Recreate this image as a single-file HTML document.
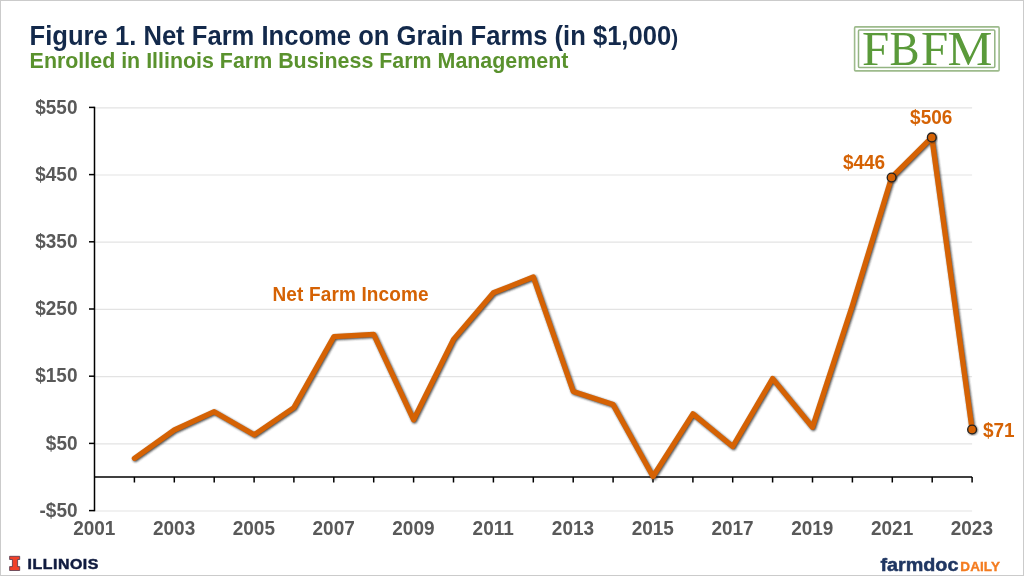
<!DOCTYPE html>
<html><head><meta charset="utf-8">
<style>
html,body{margin:0;padding:0;background:#fff;}
body{width:1024px;height:576px;overflow:hidden;position:relative;}
svg{position:absolute;left:0;top:0;will-change:transform;}
.ax{font-family:"Liberation Sans",sans-serif;font-weight:bold;font-size:19px;fill:#595959;}
.dl{font-family:"Liberation Sans",sans-serif;font-weight:bold;font-size:19px;fill:#D56204;}
.t1{font-family:"Liberation Sans",sans-serif;font-weight:bold;font-size:26px;fill:#13294B;}
.t2{font-family:"Liberation Sans",sans-serif;font-weight:bold;font-size:21.5px;fill:#5A922E;}
.fb{font-family:"Liberation Serif",serif;font-size:49px;fill:#5A9A3A;}
.il{font-family:"Liberation Sans",sans-serif;font-weight:bold;font-size:15px;fill:#101B3F;}
.fd{font-family:"Liberation Sans",sans-serif;font-weight:bold;font-size:19px;fill:#1F3662;}
.dy{font-family:"Liberation Sans",sans-serif;font-weight:bold;font-size:13.5px;fill:#F47C20;}
</style></head>
<body>
<svg width="1024" height="576" viewBox="0 0 1024 576">
<defs><filter id="b" x="-5%" y="-5%" width="110%" height="110%"><feGaussianBlur stdDeviation="0.8"/></filter></defs>
<rect x="0.5" y="0.5" width="1023" height="575" fill="#fff" stroke="#CBCBCB" stroke-width="1"/>
<text transform="translate(29.6,44.6) scale(0.985,1.045)" class="t1">Figure 1. Net Farm Income on Grain Farms (in $1,000<tspan font-size="21">)</tspan></text>
<text transform="translate(29.6,68.4) scale(0.996,1.055)" class="t2">Enrolled in Illinois Farm Business Farm Management</text>
<rect x="854.6" y="26.9" width="144.5" height="44" rx="1" fill="none" stroke="#9DBB8C" stroke-width="1.6"/>
<rect x="858.5" y="30" width="136.3" height="37.6" rx="1" fill="none" stroke="#93B482" stroke-width="1.5"/>
<text transform="translate(862,65.3)" class="fb">F</text>
<text transform="translate(889.6,65.3) scale(0.92,1)" class="fb">B</text>
<text transform="translate(921,65.3)" class="fb">F</text>
<text transform="translate(947.4,65.3) scale(1.03,1)" class="fb">M</text>
<line x1="94.5" y1="107.8" x2="972.1" y2="107.8" stroke="#E3E3E3" stroke-width="1.2"/>
<line x1="94.5" y1="175.0" x2="972.1" y2="175.0" stroke="#E3E3E3" stroke-width="1.2"/>
<line x1="94.5" y1="242.2" x2="972.1" y2="242.2" stroke="#E3E3E3" stroke-width="1.2"/>
<line x1="94.5" y1="309.4" x2="972.1" y2="309.4" stroke="#E3E3E3" stroke-width="1.2"/>
<line x1="94.5" y1="376.6" x2="972.1" y2="376.6" stroke="#E3E3E3" stroke-width="1.2"/>
<line x1="94.5" y1="443.8" x2="972.1" y2="443.8" stroke="#E3E3E3" stroke-width="1.2"/>
<line x1="94.5" y1="511.0" x2="972.1" y2="511.0" stroke="#E3E3E3" stroke-width="1.2"/>
<line x1="94.5" y1="107.4" x2="94.5" y2="510.6" stroke="#000" stroke-width="1.5" stroke-linecap="square"/>
<line x1="89.0" y1="107.4" x2="94.5" y2="107.4" stroke="#000" stroke-width="1.5"/>
<text transform="translate(77.50,113.50) scale(1.0,1.06)" text-anchor="end" class="ax" >$550</text>
<line x1="89.0" y1="174.6" x2="94.5" y2="174.6" stroke="#000" stroke-width="1.5"/>
<text transform="translate(77.50,180.70) scale(1.0,1.06)" text-anchor="end" class="ax" >$450</text>
<line x1="89.0" y1="241.8" x2="94.5" y2="241.8" stroke="#000" stroke-width="1.5"/>
<text transform="translate(77.50,247.90) scale(1.0,1.06)" text-anchor="end" class="ax" >$350</text>
<line x1="89.0" y1="309.0" x2="94.5" y2="309.0" stroke="#000" stroke-width="1.5"/>
<text transform="translate(77.50,315.10) scale(1.0,1.06)" text-anchor="end" class="ax" >$250</text>
<line x1="89.0" y1="376.2" x2="94.5" y2="376.2" stroke="#000" stroke-width="1.5"/>
<text transform="translate(77.50,382.30) scale(1.0,1.06)" text-anchor="end" class="ax" >$150</text>
<line x1="89.0" y1="443.4" x2="94.5" y2="443.4" stroke="#000" stroke-width="1.5"/>
<text transform="translate(77.50,449.50) scale(1.0,1.06)" text-anchor="end" class="ax" >$50</text>
<line x1="89.0" y1="510.6" x2="94.5" y2="510.6" stroke="#000" stroke-width="1.5"/>
<text transform="translate(77.50,516.70) scale(1.0,1.06)" text-anchor="end" class="ax" >-$50</text>
<line x1="94.5" y1="477.0" x2="972.1" y2="477.0" stroke="#000" stroke-width="1.5"/>
<text transform="translate(94.30,534.70) scale(1.0,1.06)" text-anchor="middle" class="ax" >2001</text>
<line x1="134.4" y1="477.0" x2="134.4" y2="482.5" stroke="#000" stroke-width="1.5"/>
<line x1="174.3" y1="477.0" x2="174.3" y2="482.5" stroke="#000" stroke-width="1.5"/>
<text transform="translate(174.08,534.70) scale(1.0,1.06)" text-anchor="middle" class="ax" >2003</text>
<line x1="214.2" y1="477.0" x2="214.2" y2="482.5" stroke="#000" stroke-width="1.5"/>
<line x1="254.1" y1="477.0" x2="254.1" y2="482.5" stroke="#000" stroke-width="1.5"/>
<text transform="translate(253.86,534.70) scale(1.0,1.06)" text-anchor="middle" class="ax" >2005</text>
<line x1="293.9" y1="477.0" x2="293.9" y2="482.5" stroke="#000" stroke-width="1.5"/>
<line x1="333.8" y1="477.0" x2="333.8" y2="482.5" stroke="#000" stroke-width="1.5"/>
<text transform="translate(333.64,534.70) scale(1.0,1.06)" text-anchor="middle" class="ax" >2007</text>
<line x1="373.7" y1="477.0" x2="373.7" y2="482.5" stroke="#000" stroke-width="1.5"/>
<line x1="413.6" y1="477.0" x2="413.6" y2="482.5" stroke="#000" stroke-width="1.5"/>
<text transform="translate(413.42,534.70) scale(1.0,1.06)" text-anchor="middle" class="ax" >2009</text>
<line x1="453.5" y1="477.0" x2="453.5" y2="482.5" stroke="#000" stroke-width="1.5"/>
<line x1="493.4" y1="477.0" x2="493.4" y2="482.5" stroke="#000" stroke-width="1.5"/>
<text transform="translate(493.20,534.70) scale(1.0,1.06)" text-anchor="middle" class="ax" >2011</text>
<line x1="533.3" y1="477.0" x2="533.3" y2="482.5" stroke="#000" stroke-width="1.5"/>
<line x1="573.2" y1="477.0" x2="573.2" y2="482.5" stroke="#000" stroke-width="1.5"/>
<text transform="translate(572.98,534.70) scale(1.0,1.06)" text-anchor="middle" class="ax" >2013</text>
<line x1="613.1" y1="477.0" x2="613.1" y2="482.5" stroke="#000" stroke-width="1.5"/>
<line x1="653.0" y1="477.0" x2="653.0" y2="482.5" stroke="#000" stroke-width="1.5"/>
<text transform="translate(652.76,534.70) scale(1.0,1.06)" text-anchor="middle" class="ax" >2015</text>
<line x1="692.9" y1="477.0" x2="692.9" y2="482.5" stroke="#000" stroke-width="1.5"/>
<line x1="732.7" y1="477.0" x2="732.7" y2="482.5" stroke="#000" stroke-width="1.5"/>
<text transform="translate(732.54,534.70) scale(1.0,1.06)" text-anchor="middle" class="ax" >2017</text>
<line x1="772.6" y1="477.0" x2="772.6" y2="482.5" stroke="#000" stroke-width="1.5"/>
<line x1="812.5" y1="477.0" x2="812.5" y2="482.5" stroke="#000" stroke-width="1.5"/>
<text transform="translate(812.32,534.70) scale(1.0,1.06)" text-anchor="middle" class="ax" >2019</text>
<line x1="852.4" y1="477.0" x2="852.4" y2="482.5" stroke="#000" stroke-width="1.5"/>
<line x1="892.3" y1="477.0" x2="892.3" y2="482.5" stroke="#000" stroke-width="1.5"/>
<text transform="translate(892.10,534.70) scale(1.0,1.06)" text-anchor="middle" class="ax" >2021</text>
<line x1="932.2" y1="477.0" x2="932.2" y2="482.5" stroke="#000" stroke-width="1.5"/>
<line x1="972.1" y1="477.0" x2="972.1" y2="482.5" stroke="#000" stroke-width="1.5"/>
<text transform="translate(971.88,534.70) scale(1.0,1.06)" text-anchor="middle" class="ax" >2023</text>
<path d="M134.4,458.3 L174.3,430.0 L214.2,411.7 L254.1,434.8 L293.9,407.6 L333.8,336.7 L373.7,334.4 L413.6,419.8 L453.5,339.4 L493.4,292.8 L533.3,277.0 L573.2,391.4 L613.1,404.6 L653.0,476.5 L692.9,413.9 L732.7,446.5 L772.6,378.6 L812.5,427.2 L852.4,305.5 L891.6,177.5 L931.8,137.4 L972.1,429.5" fill="none" stroke="#2b2b2b" stroke-width="5.3" stroke-linejoin="round" stroke-linecap="round" transform="translate(1,1)" filter="url(#b)" opacity="0.85"/>
<path d="M134.4,458.3 L174.3,430.0 L214.2,411.7 L254.1,434.8 L293.9,407.6 L333.8,336.7 L373.7,334.4 L413.6,419.8 L453.5,339.4 L493.4,292.8 L533.3,277.0 L573.2,391.4 L613.1,404.6 L653.0,476.5 L692.9,413.9 L732.7,446.5 L772.6,378.6 L812.5,427.2 L852.4,305.5 L891.6,177.5 L931.8,137.4 L972.1,429.5" fill="none" stroke="#D56204" stroke-width="5.3" stroke-linejoin="round" stroke-linecap="round"/>
<circle cx="892.4" cy="178.3" r="4.8" fill="#2b2b2b" filter="url(#b)" opacity="0.7"/>
<circle cx="891.6" cy="177.5" r="4.4" fill="#D56204" stroke="#222" stroke-width="1.35"/>
<circle cx="932.6" cy="138.2" r="4.8" fill="#2b2b2b" filter="url(#b)" opacity="0.7"/>
<circle cx="931.8" cy="137.4" r="4.4" fill="#D56204" stroke="#222" stroke-width="1.35"/>
<circle cx="972.9" cy="430.3" r="4.8" fill="#2b2b2b" filter="url(#b)" opacity="0.7"/>
<circle cx="972.1" cy="429.5" r="4.4" fill="#D56204" stroke="#222" stroke-width="1.35"/>
<text transform="translate(931.20,123.90) scale(1.0,1.06)" text-anchor="middle" class="dl" >$506</text>
<text transform="translate(864.00,169.00) scale(1.0,1.06)" text-anchor="middle" class="dl" >$446</text>
<text transform="translate(983.00,437.00) scale(1.0,1.06)" text-anchor="start" class="dl" >$71</text>
<text transform="translate(272.50,300.70) scale(1.0,1.06)" text-anchor="start" class="dl" letter-spacing="0.15">Net Farm Income</text>
<path d="M9.6,556.3 H19.7 V559.5 H17.6 V566.6 H19.7 V570.5 H9.6 V566.6 H12.4 V559.5 H9.6 Z" fill="#EF412A" stroke="#3A2A44" stroke-width="0.7"/>
<text transform="translate(27.6,568.7) scale(1.06,1)" class="il" letter-spacing="0.5" stroke="#101B3F" stroke-width="0.5">ILLINOIS</text>
<text transform="translate(880.5,570.6) scale(1.04,1)" class="fd" stroke="#1F3662" stroke-width="0.5">farmdoc</text>
<text x="960.3" y="570.6" class="dy" letter-spacing="0.1" stroke="#F47C20" stroke-width="0.35">DAILY</text>
</svg>
</body></html>
